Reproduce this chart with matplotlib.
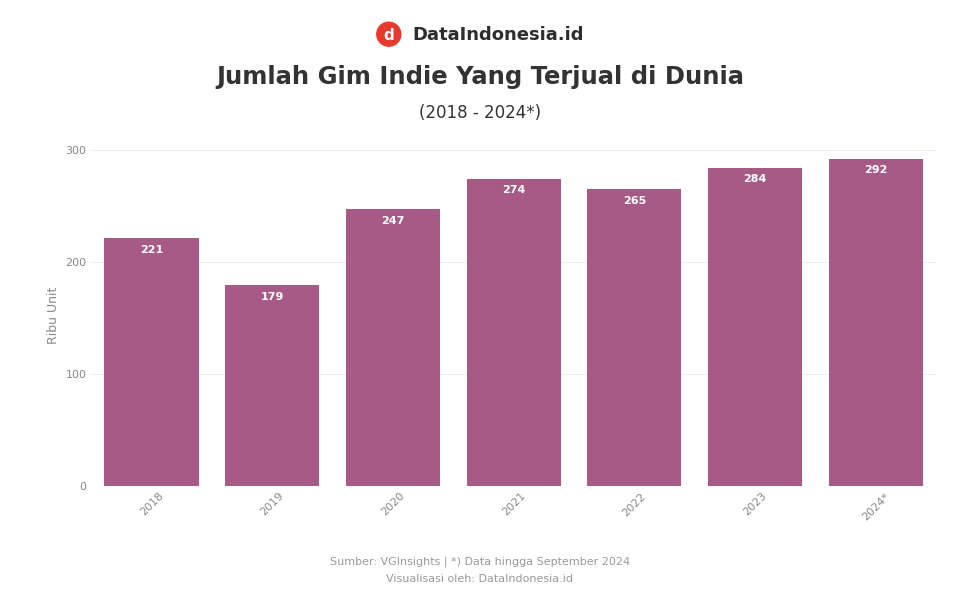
import matplotlib.pyplot as plt
from matplotlib.patches import Ellipse

years = ['2018', '2019', '2020', '2021', '2022', '2023', '2024*']
sold = [221, 179, 247, 274, 265, 284, 292]
yticks = [0, 100, 200, 300]

fig = plt.figure(figsize=(9.6, 6), dpi=100)
ax = fig.add_axes([0.095, 0.19, 0.88, 0.57])

ax.bar(years, sold, width=0.78, color='#a85a87')
for i, v in enumerate(sold):
    ax.text(i, v - 6, f'{v}', ha='center', va='top', fontsize=8, color='white', fontweight='bold')

ax.set_ylim(0, 305)
ax.set_yticks(yticks)
ax.set_yticklabels([str(t) for t in yticks], fontsize=8, color='#888888')
ax.set_xlim(-0.5, 6.5)
ax.tick_params(axis='x', labelsize=8, labelcolor='#888888', length=0, rotation=45)
ax.tick_params(axis='y', length=0)
ax.set_ylabel('Ribu Unit', fontsize=9, color='#888888')
for s in ax.spines.values():
    s.set_visible(False)
ax.grid(axis='y', color='#eeeeee', linewidth=0.8)
ax.set_axisbelow(True)

# logo (round: 24 px diameter)
fig.patches.append(Ellipse((0.405, 0.943), 24 / 960, 24 / 600, transform=fig.transFigure, color='#e63a2e'))
fig.text(0.405, 0.941, 'd', ha='center', va='center', fontsize=11, fontweight='bold', color='white')
fig.text(0.43, 0.942, 'DataIndonesia.id', ha='left', va='center', fontsize=13, fontweight='bold', color='#2d2d2d')

fig.text(0.5, 0.872, 'Jumlah Gim Indie Yang Terjual di Dunia', ha='center', va='center',
         fontsize=17.5, fontweight='bold', color='#333333')
fig.text(0.5, 0.812, '(2018 - 2024*)', ha='center', va='center', fontsize=12, color='#333333')

fig.text(0.5, 0.063, 'Sumber: VGInsights | *) Data hingga September 2024', ha='center', va='center',
         fontsize=8, color='#999999')
fig.text(0.5, 0.035, 'Visualisasi oleh: DataIndonesia.id', ha='center', va='center',
         fontsize=8, color='#999999')

fig.savefig('out.png', dpi=100)
